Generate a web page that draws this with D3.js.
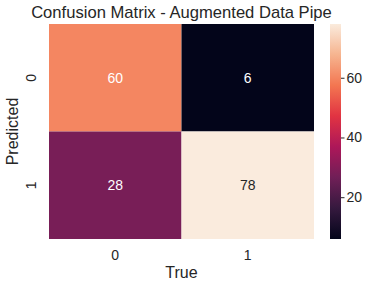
<!DOCTYPE html>
<html>
<head>
<meta charset="utf-8">
<script src="https://cdn.jsdelivr.net/npm/d3@7"></script>
<style>
    body { margin: 0; background: #fff; }
    text { font-family: "Liberation Sans", Arial, sans-serif; fill: #262626; }
</style>
</head>
<body>
<svg id="chart" width="374" height="289"></svg>
<script>
// data
const trueLabels = ['0', '1'];
const predLabels = ['0', '1'];
// rows = predicted, cols = true
const counts = [
    [60, 6],
    [28, 78]
];
const cbarTicks = [20, 40, 60];

// rocket colormap stops
const rocket = ['#03051a', '#35193e', '#701f57', '#ad1759', '#e13342', '#f37651', '#f6b48f', '#faebdd'];

const svg = d3.select('#chart');
const margin = { top: 24, left: 49 };
const width = 265, height = 215;

const flat = counts.flat();
const vmin = d3.min(flat), vmax = d3.max(flat);
const rocketInterp = d3.piecewise(d3.interpolateRgb, rocket);
const color = v => rocketInterp((v - vmin) / (vmax - vmin));

const x = d3.scaleBand().domain(trueLabels).range([margin.left, margin.left + width]);
const y = d3.scaleBand().domain(predLabels).range([margin.top, margin.top + height]);

const cells = [];
counts.forEach((row, i) => row.forEach((v, j) => cells.push({ pred: predLabels[i], tru: trueLabels[j], v: v })));

svg.selectAll('.cell').data(cells).enter().append('rect')
    .attr('class', 'cell')
    .attr('x', d => x(d.tru))
    .attr('y', d => y(d.pred))
    .attr('width', x.bandwidth())
    .attr('height', y.bandwidth())
    .attr('fill', d => color(d.v));

svg.selectAll('.annot').data(cells).enter().append('text')
    .attr('class', 'annot')
    .attr('x', d => x(d.tru) + x.bandwidth() / 2)
    .attr('y', d => y(d.pred) + y.bandwidth() / 2)
    .attr('text-anchor', 'middle')
    .attr('dominant-baseline', 'central')
    .style('font-size', '14px')
    .style('fill', d => d3.hsl(color(d.v)).l > 0.7 ? '#262626' : '#fff')
    .text(d => d.v);

// x axis
const xAxis = svg.append('g')
    .attr('transform', `translate(0, ${margin.top + height})`)
    .call(d3.axisBottom(x).tickSize(0).tickPadding(11));
xAxis.select('.domain').remove();
xAxis.selectAll('text').style('font-size', '14px').attr('fill', '#262626');

// y axis
const yAxis = svg.append('g')
    .attr('transform', `translate(${margin.left}, 0)`)
    .call(d3.axisLeft(y).tickSize(0).tickPadding(0));
yAxis.select('.domain').remove();
yAxis.selectAll('text')
    .style('font-size', '14px')
    .attr('fill', '#262626')
    .attr('text-anchor', 'middle')
    .attr('dy', null)
    .attr('dominant-baseline', 'central')
    .attr('transform', 'translate(-18, 0) rotate(-90)');

// labels
svg.append('text')
    .attr('x', margin.left + width / 2)
    .attr('y', 278)
    .attr('text-anchor', 'middle')
    .style('font-size', '16px')
    .text('True');

svg.append('text')
    .attr('transform', `translate(18, ${margin.top + height / 2}) rotate(-90)`)
    .attr('text-anchor', 'middle')
    .style('font-size', '16px')
    .text('Predicted');

svg.append('text')
    .attr('x', margin.left + width / 2)
    .attr('y', 18)
    .attr('text-anchor', 'middle')
    .style('font-size', '16.6px')
    .text('Confusion Matrix - Augmented Data Pipe');

// colorbar
const cbX = 330, cbW = 11;
const cbScale = d3.scaleLinear().domain([vmin, vmax]).range([margin.top + height, margin.top]);
const defs = svg.append('defs');
const grad = defs.append('linearGradient')
    .attr('id', 'cbgrad')
    .attr('x1', 0).attr('y1', 1).attr('x2', 0).attr('y2', 0);
grad.selectAll('stop').data(rocket).enter().append('stop')
    .attr('offset', (d, i) => i / (rocket.length - 1))
    .attr('stop-color', d => d);

svg.append('rect')
    .attr('x', cbX)
    .attr('y', margin.top)
    .attr('width', cbW)
    .attr('height', height)
    .attr('fill', 'url(#cbgrad)');

const cbAxis = svg.append('g')
    .attr('transform', `translate(${cbX + cbW}, 0)`)
    .call(d3.axisRight(cbScale).tickValues(cbarTicks).tickSize(3.5).tickPadding(2));
cbAxis.select('.domain').remove();
cbAxis.selectAll('line').attr('stroke', '#262626');
cbAxis.selectAll('text').style('font-size', '14px').attr('fill', '#262626');
</script>
</body>
</html>
